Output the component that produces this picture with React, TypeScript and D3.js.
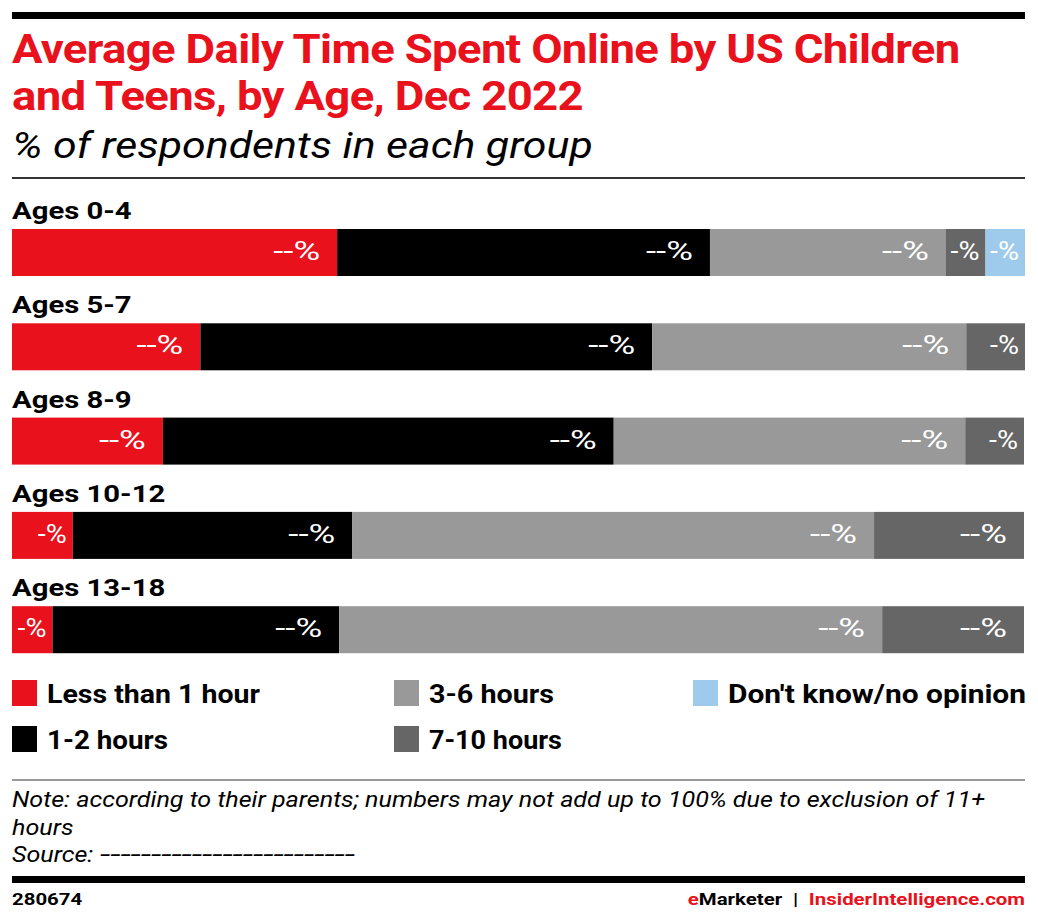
import * as React from 'react'
import * as d3 from 'd3'

// values (labels in the source are masked as --%)
const ageGroups = ['Ages 0-4', 'Ages 5-7', 'Ages 8-9', 'Ages 10-12', 'Ages 13-18']
const seriesNames = ['Less than 1 hour', '1-2 hours', '3-6 hours', '7-10 hours', "Don't know/no opinion"]
const lessThan1 = [32.1, 18.6, 14.9, 6.0, 4.0]
const oneToTwo = [36.8, 44.6, 44.5, 27.6, 28.3]
const threeToSix = [23.3, 31.0, 34.7, 51.5, 53.6]
const sevenToTen = [3.9, 5.8, 5.8, 14.8, 14.0]
const dontKnow = [3.9, 0, 0, 0, 0]
const valueLabels = [
    ['--%', '--%', '--%', '-%', '-%'],
    ['--%', '--%', '--%', '-%', ''],
    ['--%', '--%', '--%', '-%', ''],
    ['-%', '--%', '--%', '--%', ''],
    ['-%', '--%', '--%', '--%', ''],
]
const colors = ['#e8111c', '#000000', '#999999', '#666666', '#9ecbeb']

const W = 1038
const H = 924
const left = 12
const right = 1025
const font = 'Roboto, "Open Sans", sans-serif'

// roboto is narrower than the original face, so stretch text horizontally
const Txt = ({ x, y, sx = 1, anchor = 'start', children, ...rest }: any) =>
    <text transform={`translate(${x},${y}) scale(${sx},1)`} textAnchor={anchor} {...rest}>{children}</text>

export default function App () {
    const series = [lessThan1, oneToTwo, threeToSix, sevenToTen, dontKnow]
    const x = d3.scaleLinear().domain([0, 100]).range([left, right])
    const bw = 47
    const step = 94.3

    // legend text widths as measured on the reference
    const legendItems = [
        { i: 0, x: 12, y: 680, w: 213 },
        { i: 1, x: 12, y: 726, w: 121 },
        { i: 2, x: 394, y: 680, w: 125 },
        { i: 3, x: 394, y: 726, w: 133 },
        { i: 4, x: 693, y: 680, w: 298 },
    ]

    return <svg width={W} height={H} style={{ position: 'absolute', left: 0, top: 0, background: '#fff' }} fontFamily={font}>
        <rect x={left} y={12} width={right - left} height={7} fill='#000' />
        <Txt x={left} y={63} sx={1.11} fontSize={41} fontWeight={700} fill='#e8111c' letterSpacing={-0.6}>Average Daily Time Spent Online by US Children</Txt>
        <Txt x={left} y={110} sx={1.11} fontSize={41} fontWeight={700} fill='#e8111c' letterSpacing={-0.6}>and Teens, by Age, Dec 2022</Txt>
        <Txt x={left} y={158} sx={1.19} fontSize={36} fontStyle='italic' fill='#000'>% of respondents in each group</Txt>
        <rect x={left} y={177} width={right - left} height={2} fill='#333' />

        {ageGroups.map((g, gi) => {
            const top = 229 + gi * step
            let cum = 0
            return <g key={g}>
                <Txt x={left} y={top - 10} sx={1.22} fontSize={24} fontWeight={700} fill='#000'>{g}</Txt>
                {series.map((s, si) => {
                    const v = s[gi]
                    if (!v) return null
                    const x0 = x(cum)
                    cum += v
                    const x1 = x(cum)
                    const lab = valueLabels[gi][si]
                    const two = lab.length > 2
                    return <g key={si}>
                        <rect x={x0} y={top} width={x1 - x0} height={bw} fill={colors[si]} />
                        <text x={x1 - (two ? 17 : 6)} y={top + 31} textAnchor='end' fontSize={25}
                            textLength={two ? 47 : 29} lengthAdjust='spacingAndGlyphs' fill='#fff'>{lab}</text>
                    </g>
                })}
            </g>
        })}

        {legendItems.map(l => <g key={l.i}>
            <rect x={l.x} y={l.y} width={25} height={26} fill={colors[l.i]} />
            <text x={l.x + 35} y={l.y + 23} fontSize={25} fontWeight={700} fill='#000'
                textLength={l.w} lengthAdjust='spacingAndGlyphs'>{seriesNames[l.i]}</text>
        </g>)}

        <rect x={left} y={779} width={right - left} height={2} fill='#999' />
        <Txt x={left} y={807} sx={1.14} fontSize={22} fontStyle='italic' fill='#000'>Note: according to their parents; numbers may not add up to 100% due to exclusion of 11+</Txt>
        <Txt x={left} y={835} sx={1.14} fontSize={22} fontStyle='italic' fill='#000'>hours</Txt>
        <Txt x={left} y={862} sx={1.14} fontSize={22} fontStyle='italic' fill='#000'>Source:</Txt>
        <text x={100} y={862} fontSize={22} fontStyle='italic' fill='#000' textLength={255} lengthAdjust='spacingAndGlyphs'>-------------------------</text>
        <rect x={left} y={876} width={right - left} height={7} fill='#000' />
        <Txt x={left} y={905} sx={1.2} fontSize={17} fontWeight={700} fill='#000'>280674</Txt>
        <Txt x={right} y={905} sx={1.2} anchor='end' fontSize={17} fontWeight={700}>
            <tspan fill='#e8111c'>e</tspan><tspan fill='#000'>Marketer</tspan><tspan fill='#000' dx={9}>|</tspan><tspan fill='#e8111c' dx={9}>InsiderIntelligence.com</tspan>
        </Txt>
    </svg>
}
